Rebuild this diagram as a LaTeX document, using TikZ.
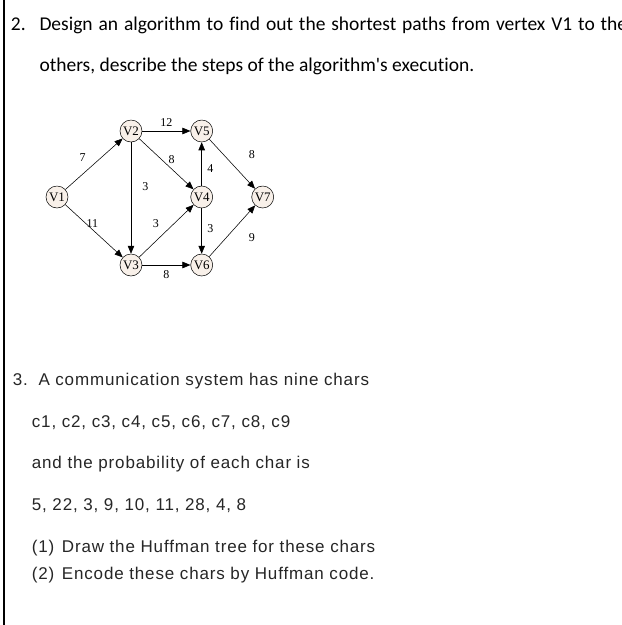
\documentclass[tikz,border=0pt]{standalone}
\usepackage{fontspec}
\setmainfont{Liberation Serif}
\newfontfamily\qtwofont[Ligatures={NoCommon}]{Carlito}
\newfontfamily\qthreefont[LetterSpace=5]{Liberation Sans}
\usetikzlibrary{arrows.meta,positioning}
\definecolor{vfill}{RGB}{248,240,233}

\begin{document}
\begin{tikzpicture}[x=1pt,y=-1pt,
            vertex/.style={draw,line width=0.5pt,circle,on grid,minimum size=22pt,inner sep=0pt,fill=vfill,font=\fontsize{13}{13}\selectfont},
            to/.style={-{Triangle[length=8pt,width=6.5pt]},line width=0.55pt},
            wt/.style={inner sep=2pt,font=\fontsize{12}{12}\selectfont},
            qtwo/.style={anchor=base west,inner sep=0pt,font=\qtwofont\fontsize{19.5}{19.5}\selectfont},
            qthree/.style={anchor=base west,inner sep=0pt,text=black!85,font=\qthreefont\fontsize{17}{17}\selectfont}
  ]
  \useasboundingbox (0,0) rectangle (622,625);
  \clip (0,0) rectangle (622,625);
  \fill[white] (0,0) rectangle (622,625);
  \draw[line width=2pt] (4,0) -- (4,625);

  % question 2
  \node[qtwo] (q2num) at (10.7,30.7) {2.};
  \node[qtwo] (q2line1) at (39.3,30.7) {\spaceskip=5.9pt Design an algorithm to find out the shortest paths from vertex V1 to the};
  \node[qtwo] (q2line2) at (39.3,71.7) {others, describe the steps of the algorithm\textquotesingle s execution.};

  % graph
  \node[vertex] (V1) at (57,197) {V1};
  \node[vertex] (V2) [above right=66pt and 74pt of V1] {V2};
  \node[vertex] (V5) [right=70.7pt of V2] {V5};
  \node[vertex] (V4) [below=66pt of V5] {V4};
  \node[vertex] (V7) [right=61pt of V4] {V7};
  \node[vertex] (V3) [below=134pt of V2] {V3};
  \node[vertex] (V6) [right=70.7pt of V3] {V6};

  \draw[to] (V1) -- node[wt,above left=0pt and 6pt] {7} (V2);
  \draw[to] (V1) -- node[wt,pos=0.47,above=-0.5pt] {11} (V3);
  \draw[to] (V2) -- node[wt,above=2pt] {12} (V5);
  \draw[to] (V2) -- node[wt,above right=-2pt and 0pt] {8} (V4);
  \draw[to] (V2) -- node[wt,pos=0.4,right=9pt] {3} (V3);
  \draw[to] (V4) -- node[wt,pos=0.4,right=3.3pt] {4} (V5);
  \draw[to] (V5) -- node[wt,above right=3pt and 14.5pt] {8} (V7);
  \draw[to] (V3) -- node[wt,above left=1.6pt and 5.3pt] {3} (V4);
  \draw[to] (V4) -- node[wt,pos=0.44,right=3.3pt] {3} (V6);
  \draw[to] (V6) -- node[wt,below right=0pt and 14.5pt] {9} (V7);
  \draw[to] (V3) -- node[wt,below=3pt] {8} (V6);

  % question 3
  \node[qthree] (q3num) at (12.7,385) {3.};
  \node[qthree] (q3line1) at (38.3,385) {A communication system has nine chars};
  \node[qthree] (q3line2) at (31.7,427) {c1, c2, c3, c4, c5, c6, c7, c8, c9};
  \node[qthree] (q3line3) at (31.7,468) {and the probability of each char is};
  \node[qthree] (q3line4) at (31.7,510) {5, 22, 3, 9, 10, 11, 28, 4, 8};
  \node[qthree] (q3num1) at (31.7,552) {(1)};
  \node[qthree] (q3line5) at (61.7,552) {Draw the Huffman tree for these chars};
  \node[qthree] (q3num2) at (31.7,579) {(2)};
  \node[qthree] (q3line6) at (61.7,579) {Encode these chars by Huffman code.};

\end{tikzpicture}
\end{document}
